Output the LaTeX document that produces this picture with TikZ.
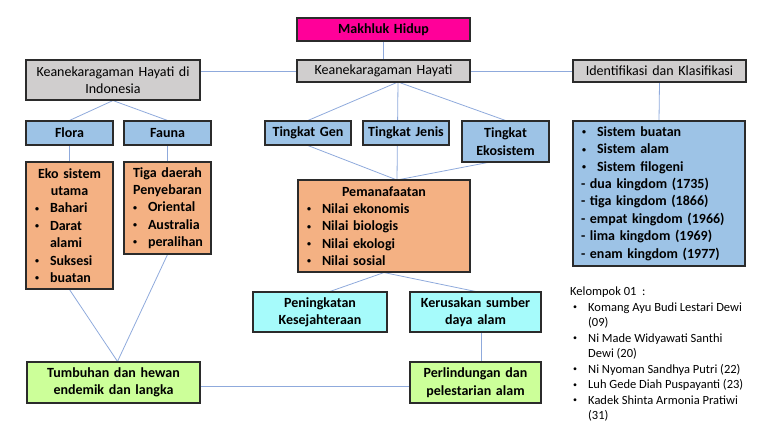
\documentclass[tikz,border=0pt]{standalone}
\usepackage{fontspec}
\setmainfont{Carlito}
\usetikzlibrary{backgrounds}
\definecolor{boxline}{HTML}{2B2B2B}
\definecolor{linkblue}{HTML}{8FAADC}
\definecolor{mhpink}{HTML}{FF0099}
\definecolor{khgray}{HTML}{D0CECE}
\definecolor{lvblue}{HTML}{9DC3E6}
\definecolor{nilorange}{HTML}{F4B183}
\definecolor{effcyan}{HTML}{A6FBFB}
\definecolor{conzgreen}{HTML}{CCFF99}
\newcommand{\dotb}{\raisebox{0.12em}{\fontsize{8}{8}\selectfont\textbullet}}
\newcommand{\itm}[1]{\makebox[\hsize][l]{\makebox[15pt][l]{\dotb}#1}}
\newcommand{\sub}[1]{\makebox[\hsize][l]{\hspace*{15pt}#1}}
\newcommand{\dsh}[1]{\makebox[\hsize][l]{\hspace*{-1pt}- #1}}
\newcommand{\kitm}{\makebox[18pt][l]{\hspace*{3pt}\dotb}}

\begin{document}
\begin{tikzpicture}[x=1pt, y=-1pt,
  box/.style={draw=boxline, line width=1.1pt, inner xsep=9pt, inner ysep=0pt,
    align=center, font=\bfseries\fontsize{14}{17.4}\selectfont},
  plain/.style={font=\fontsize{14}{17}\selectfont},
  sz/.style 2 args={text width=#1, minimum height=#2},
  wide/.style={inner xsep=2pt},
  link/.style={draw=linkblue, line width=0.8pt}
]
\useasboundingbox (0,0) rectangle (768,433);

% top level
\node [box, wide, fill=mhpink, sz={169pt}{23pt}] (mh) at (383.5,29.5) {Makhluk Hidup};
\node [box, wide, plain, fill=khgray, sz={169pt}{22pt}] (kh) at (383.5,71) {Keanekaragaman Hayati};
\node [box, wide, plain, fill=khgray, sz={170pt}{40pt}] (khi) at (113,80) {Keanekaragaman Hayati di\\Indonesia};
\node [box, wide, plain, fill=khgray, sz={169pt}{22pt}] (ik) at (659.5,71) {Identifikasi dan Klasifikasi};

% second row
\node [box, wide, fill=lvblue, sz={83pt}{24pt}] (flora) at (69.5,133) {Flora};
\node [box, wide, fill=lvblue, sz={83pt}{24pt}] (fauna) at (167.5,133) {Fauna};
\node [box, wide, fill=lvblue, sz={82pt}{24pt}] (gen) at (308,133) {Tingkat Gen};
\node [box, wide, fill=lvblue, sz={82pt}{24pt}] (jenis) at (406,133) {Tingkat Jenis};
\node [box, wide, fill=lvblue, sz={83pt}{41pt}] (ekosis) at (505.5,141.5) {Tingkat\\Ekosistem};
\node [box, fill=lvblue, sz={154pt}{145pt}] (sis) at (659,193.5)
  {\itm{Sistem buatan}\\\itm{Sistem alam}\\\itm{Sistem filogeni}\\
   \dsh{dua kingdom (1735)}\\\dsh{tiga kingdom (1866)}\\\dsh{empat kingdom (1966)}\\
   \dsh{lima kingdom (1969)}\\\dsh{enam kingdom (1977)}};

% orange boxes
\node [box, fill=nilorange, sz={69pt}{127pt}] (eks) at (69.5,225.5)
  {Eko sistem\\utama\\\itm{Bahari}\\\itm{Darat}\\\sub{alami}\\\itm{Suksesi}\\\itm{buatan}};
\node [box, fill=nilorange, sz={69pt}{92pt}] (tiga) at (167.5,208)
  {Tiga daerah\\Penyebaran\\\itm{Oriental}\\\itm{Australia}\\\itm{peralihan}};
\node [box, fill=nilorange, sz={154pt}{92pt}] (pem) at (384,226)
  {Pemanafaatan\\\itm{Nilai ekonomis}\\\itm{Nilai biologis}\\\itm{Nilai ekologi}\\\itm{Nilai sosial}};

% effects and conservation
\node [box, wide, fill=effcyan, sz={130pt}{40pt}] (pen) at (320,312) {Peningkatan\\Kesejahteraan};
\node [box, wide, fill=effcyan, sz={127pt}{40pt}] (ker) at (475.5,312) {Kerusakan sumber\\daya alam};
\node [box, wide, fill=conzgreen, sz={169pt}{41pt}] (tum) at (113.5,382.5) {Tumbuhan dan hewan\\endemik dan langka};
\node [box, wide, fill=conzgreen, sz={127pt}{41pt}] (per) at (475.5,382.5) {Perlindungan dan\\pelestarian alam};

% group members
\node [anchor=north west, inner sep=0pt, align=left,
  font=\fontsize{12.5}{15.5}\selectfont] (kel) at (570,287)
  {Kelompok 01\ \ :\\
   \kitm Komang Ayu Budi Lestari Dewi\\
   \hspace*{18pt}(09)\\
   \kitm Ni Made Widyawati Santhi\\
   \hspace*{18pt}Dewi (20)\\
   \kitm Ni Nyoman Sandhya Putri (22)\\
   \kitm Luh Gede Diah Puspayanti (23)\\
   \kitm Kadek Shinta Armonia Pratiwi\\
   \hspace*{18pt}(31)};

\coordinate (khb) at (398,82);
\coordinate (pemt) at (397,180);

\begin{scope}[on background layer]
\draw [link] (mh.south) -- (kh.north);
\draw [link] (kh.west) -- (kh.west -| khi.east);
\draw [link] (kh.east) -- (ik.west);
\draw [link] (ik.south) -- (sis.north);
\draw [link] (khi.south) -- (flora.north);
\draw [link] (khi.south) -- (fauna.north);
\draw [link] (flora.south) -- (eks.north);
\draw [link] (fauna.south) -- (tiga.north);
\draw [link] (khb) -- (gen.north);
\draw [link] (khb) -- (pemt);
\draw [link] (khb) -- (ekosis.north);
\draw [link] (gen.south) -- (pemt);
\draw [link] ([xshift=-18pt]ekosis.south) -- (pemt);
\draw [link] (pem.south) -- ([xshift=10pt]pen.north);
\draw [link] (pem.south) -- (ker.north);
\draw [link] ([xshift=6pt]ker.south) -- ([xshift=6pt]per.north);
\draw [link] ([yshift=-4pt]tum.east) -- ([yshift=-4pt]tum.east -| per.west);
\draw [link] (eks.south) -- ([xshift=4pt]tum.north);
\draw [link] (tiga.south) -- ([xshift=4pt]tum.north);
\end{scope}
\end{tikzpicture}
\end{document}
